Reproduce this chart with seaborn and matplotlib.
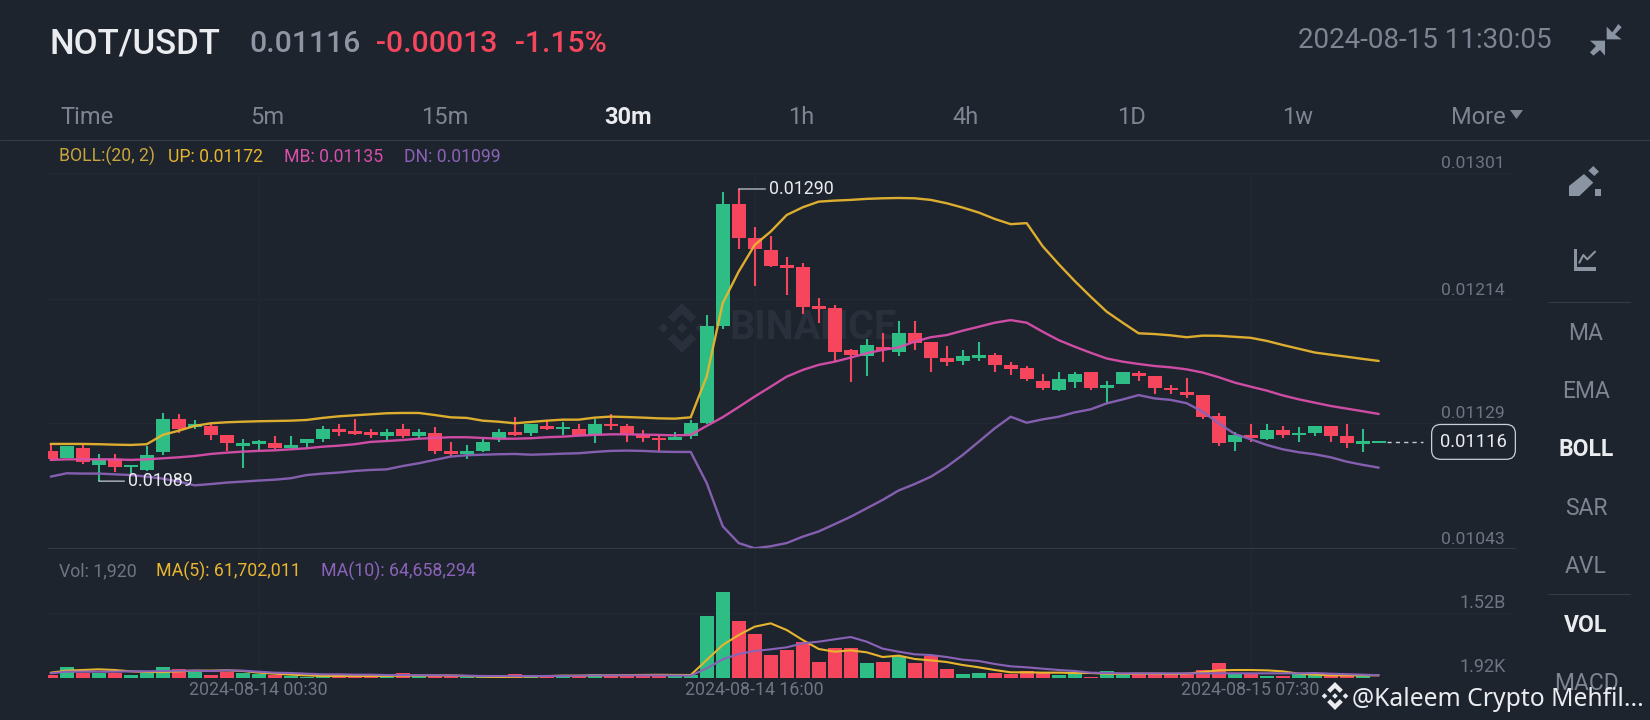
import numpy as np
import pandas as pd
import matplotlib
matplotlib.use("Agg")
import matplotlib.pyplot as plt
from matplotlib.patches import Polygon
from matplotlib.lines import Line2D
from matplotlib.transforms import Affine2D
import seaborn as sns

# NOT/USDT 30-minute candles, oldest first
opens = [0.01110,0.01105,0.01112,0.01100,0.01104,0.01099,0.01097,0.01109,0.01132,0.01126,0.01127,0.01121,
         0.01113,0.01115,0.01115,0.01112,0.01115,0.01118,0.01125,0.01123,0.01123,0.01120,0.01125,0.01120,
         0.01122,0.01110,0.01108,0.01110,0.01118,0.01123,0.01122,0.01127,0.01125,0.01125,0.01121,0.01128,
         0.01127,0.01121,0.01119,0.01118,0.01120,0.01129,0.01196,0.01280,0.01256,0.01248,0.01237,0.01236,
         0.01209,0.01208,0.01179,0.01175,0.01181,0.01178,0.01191,0.01185,0.01174,0.01172,0.01174,0.01176,
         0.01169,0.01167,0.01158,0.01152,0.01157,0.01164,0.01153,0.01156,0.01163,0.01161,0.01153,0.01150,
         0.01148,0.01134,0.01116,0.01121,0.01118,0.01124,0.01121,0.01122,0.01127,0.01120,0.01115,0.01116]
highs = [0.01115,0.01113,0.01114,0.01108,0.01108,0.01100,0.01113,0.01136,0.01135,0.01131,0.01129,0.01121,
         0.01118,0.01117,0.01120,0.01120,0.01118,0.01127,0.01128,0.01132,0.01125,0.01125,0.01128,0.01125,
         0.01126,0.01116,0.01114,0.01118,0.01125,0.01133,0.01128,0.01131,0.01130,0.01128,0.01132,0.01135,
         0.01128,0.01124,0.01121,0.01123,0.01131,0.01203,0.01288,0.01290,0.01264,0.01258,0.01243,0.01239,
         0.01215,0.01210,0.01180,0.01187,0.01191,0.01199,0.01199,0.01185,0.01182,0.01179,0.01185,0.01177,
         0.01171,0.01168,0.01163,0.01164,0.01164,0.01164,0.01158,0.01164,0.01165,0.01161,0.01155,0.01160,
         0.01148,0.01136,0.01123,0.01128,0.01128,0.01127,0.01126,0.01127,0.01127,0.01128,0.01125,0.01116]
lows = [0.01103,0.01105,0.01101,0.01089,0.01095,0.01093,0.01096,0.01107,0.01122,0.01125,0.01117,0.01110,
        0.01098,0.01110,0.01111,0.01112,0.01112,0.01116,0.01120,0.01121,0.01119,0.01117,0.01119,0.01118,
        0.01108,0.01106,0.01104,0.01109,0.01116,0.01120,0.01120,0.01124,0.01121,0.01120,0.01115,0.01124,
        0.01116,0.01116,0.01110,0.01117,0.01118,0.01128,0.01194,0.01249,0.01223,0.01236,0.01217,0.01204,
        0.01198,0.01171,0.01157,0.01161,0.01171,0.01175,0.01179,0.01164,0.01168,0.01169,0.01172,0.01164,
        0.01162,0.01158,0.01152,0.01151,0.01153,0.01152,0.01142,0.01156,0.01158,0.01149,0.01149,0.01146,
        0.01132,0.01113,0.01110,0.01116,0.01117,0.01119,0.01116,0.01120,0.01116,0.01112,0.01109,0.01116]
closes = [0.01104,0.01113,0.01102,0.01104,0.01099,0.01100,0.01107,0.01132,0.01125,0.01128,0.01121,0.01115,
          0.01115,0.01116,0.01112,0.01114,0.01118,0.01125,0.01123,0.01122,0.01121,0.01123,0.01120,0.01123,
          0.01110,0.01108,0.01110,0.01116,0.01123,0.01121,0.01128,0.01125,0.01126,0.01121,0.01128,0.01127,
          0.01121,0.01119,0.01117,0.01119,0.01129,0.01196,0.01280,0.01256,0.01249,0.01237,0.01236,0.01209,
          0.01208,0.01178,0.01176,0.01183,0.01179,0.01191,0.01184,0.01174,0.01171,0.01175,0.01176,0.01169,
          0.01166,0.01159,0.01153,0.01159,0.01163,0.01153,0.01155,0.01164,0.01162,0.01153,0.01152,0.01149,
          0.01133,0.01115,0.01121,0.01119,0.01124,0.01121,0.01122,0.01127,0.01120,0.01115,0.01116,0.01116]

# Bollinger bands (20, 2)
boll_up = [0.011146,0.011146,0.011146,0.011144,0.011141,0.011139,0.011144,0.011208,0.011237,0.011270,0.011288,0.011295,
           0.011299,0.011302,0.011304,0.011306,0.011311,0.011325,0.011336,0.011343,0.011350,0.011357,0.011359,0.011359,
           0.011345,0.011329,0.011325,0.011306,0.011299,0.011288,0.011297,0.011306,0.011313,0.011313,0.011327,0.011334,
           0.011331,0.011327,0.011322,0.011320,0.011329,0.011610,0.012114,0.012332,0.012515,0.012607,0.012721,0.012774,
           0.012813,0.012820,0.012825,0.012832,0.012836,0.012838,0.012836,0.012825,0.012802,0.012772,0.012738,0.012694,
           0.012658,0.012665,0.012506,0.012383,0.012267,0.012159,0.012056,0.011980,0.011907,0.011902,0.011893,0.011880,
           0.011891,0.011890,0.011883,0.011876,0.011855,0.011827,0.011801,0.011775,0.011760,0.011746,0.011731,0.011717]
boll_mb = [0.011036,0.011040,0.011040,0.011040,0.011040,0.011036,0.011040,0.011047,0.011054,0.011063,0.011077,0.011086,
           0.011093,0.011098,0.011102,0.011109,0.011116,0.011127,0.011134,0.011144,0.011160,0.011166,0.011173,0.011182,
           0.011187,0.011192,0.011192,0.011187,0.011182,0.011182,0.011185,0.011192,0.011196,0.011203,0.011208,0.011212,
           0.011212,0.011210,0.011208,0.011205,0.011208,0.011270,0.011330,0.011400,0.011472,0.011540,0.011609,0.011655,
           0.011690,0.011712,0.011740,0.011770,0.011793,0.011810,0.011850,0.011880,0.011895,0.011925,0.011952,0.011980,
           0.011998,0.011980,0.011918,0.011860,0.011815,0.011773,0.011734,0.011712,0.011696,0.011682,0.011673,0.011659,
           0.011637,0.011605,0.011568,0.011540,0.011513,0.011480,0.011453,0.011430,0.011407,0.011389,0.011371,0.011352]
boll_dn = [0.010921,0.010944,0.010942,0.010942,0.010937,0.010932,0.010921,0.010907,0.010887,0.010861,0.010870,0.010880,
           0.010887,0.010894,0.010900,0.010910,0.010932,0.010942,0.010949,0.010960,0.010967,0.010971,0.010994,0.011013,
           0.011036,0.011059,0.011068,0.011072,0.011075,0.011077,0.011072,0.011075,0.011079,0.011082,0.011091,0.011098,
           0.011100,0.011098,0.011093,0.011091,0.011091,0.010877,0.010580,0.010464,0.010428,0.010442,0.010464,0.010508,
           0.010544,0.010594,0.010645,0.010703,0.010761,0.010826,0.010870,0.010920,0.010989,0.011070,0.011161,0.011253,
           0.011333,0.011292,0.011315,0.011333,0.011363,0.011384,0.011425,0.011452,0.011482,0.011459,0.011449,0.011426,
           0.011368,0.011288,0.011215,0.011178,0.011139,0.011109,0.011089,0.011075,0.011054,0.011024,0.011002,0.010983]

# Volume and its moving averages, in millions of NOT
volume_m = [70,257,117,117,117,63,117,264,218,133,77,147,117,101,70,47,30,54,54,54,54,30,108,54,63,63,16,16,16,101,
            47,63,54,63,94,70,70,78,87,63,70,1451,2012,1334,1023,531,648,842,367,695,695,344,367,515,358,515,218,94,
            117,110,94,171,110,70,110,23,171,87,94,94,101,101,187,351,117,94,54,47,94,70,70,63,47,0.00192]
vol_ma5_m = [125,172,187,203,187,156,140,140,156,172,172,179,164,125,101,78,62,47,47,47,47,47,55,55,60,60,47,31,20,30,
             35,45,55,55,62,65,68,72,75,72,70,421,772,1006,1201,1279,1123,889,679,616,647,601,491,523,445,413,374,304,
             250,187,133,133,125,125,117,117,101,94,101,101,94,101,140,179,187,187,179,156,101,78,62,62,62,61.7]
vol_ma10_m = [109,148,148,148,148,156,156,164,172,172,164,179,172,148,125,117,101,86,86,78,78,70,70,65,65,62,55,47,47,47,
              47,47,50,55,60,62,62,62,62,60,55,226,437,562,632,671,718,811,850,905,959,850,686,616,554,538,491,429,
              398,328,273,250,218,187,164,125,117,109,109,109,109,109,109,109,109,109,109,109,109,117,100,90,78,64.7]

price_ticks = [0.01301, 0.01214, 0.01129, 0.01043]
volume_ticks_m = [1520, 0.00192]
volume_tick_labels = ["1.52B", "1.92K"]
date_ticks = [13, 44, 75]
date_labels = ["2024-08-14 00:30", "2024-08-14 16:00", "2024-08-15 07:30"]
timeframes = ["Time", "5m", "15m", "30m", "1h", "4h", "1D", "1w", "More"]
indicators = ["MA", "EMA", "BOLL", "SAR", "AVL", "VOL", "MACD"]

BG = "#1e242e"
GREEN = "#2ebd85"
RED = "#f6465d"
YELLOW = "#e8b52f"
MAGENTA = "#d94fab"
PURPLE = "#8a63b8"
GRID = "#232933"
SEP = "#343b46"
GREY = "#848e9c"
DIM = "#6e7684"
WHITE = "#eaecef"
MARK = "#2a303b"

W, H = 1650, 720
sns.set_theme(style="dark", rc={"figure.facecolor": BG, "axes.facecolor": BG, "savefig.facecolor": BG})
plt.rcParams["font.family"] = ["Roboto", "DejaVu Sans"]

fig = plt.figure(figsize=(W / 100, H / 100), dpi=100)
# Header, menus and icons are laid out in pixels from the top-left corner
PX = Affine2D().scale(1, -1).translate(0, H)
RAISE = Affine2D().translate(0, 1.5)


def pane(left, top, right, bottom):
    return fig.add_axes([left / W, 1 - bottom / H, (right - left) / W, (bottom - top) / H])


def label(x, y, s, color=GREY, size=12, ha="left", weight="normal", **kw):
    return fig.text(x, y + 2.5, s, color=color, fontsize=size, ha=ha, va="center", weight=weight, transform=PX, **kw)


def icon(points, color=GREY):
    fig.add_artist(Polygon(points, closed=True, facecolor=color, edgecolor="none", transform=PX))


def logo(cx, cy, r, color, zorder=3, target=None):
    # Exchange mark: three small diamonds in a row between two chevrons
    shapes = [[(0, -.2), (.2, 0), (0, .2), (-.2, 0)]]
    for dx in (-.75, .75):
        shapes.append([(dx, -.2), (dx + .2, 0), (dx, .2), (dx - .2, 0)])
    for sign in (-1, 1):
        shapes.append([(0, sign), (.56, sign * .44), (.34, sign * .22), (0, sign * .56),
                       (-.34, sign * .22), (-.56, sign * .44)])
    for shape in shapes:
        pts = [(cx + a * r, cy + b * r) for a, b in shape]
        patch = Polygon(pts, closed=True, facecolor=color, edgecolor="none", transform=PX, zorder=zorder)
        if target is None:
            fig.add_artist(patch)
        else:
            target.add_patch(patch)


candles = pd.DataFrame({"open": opens, "high": highs, "low": lows, "close": closes})
candles["i"] = np.arange(len(candles))
candles["up"] = candles["close"] >= candles["open"]
candles["volume"] = volume_m
bar_colors = candles["up"].map({True: GREEN, False: RED})

x_limits = (-0.17, 91.52)

# Price pane
ax = pane(48, 173, 1515, 548)
ax.set_ylim(price_ticks[-1], price_ticks[0])
ax.set_xlim(*x_limits)
ax.vlines(candles["i"], candles["low"], candles["high"], colors=bar_colors, linewidth=1.5, zorder=2)
min_body = 1.8e-5
body_mid = (candles["open"] + candles["close"]) / 2
body_size = np.maximum((candles["close"] - candles["open"]).abs(), min_body)
ax.bar(candles["i"], body_size, bottom=body_mid - body_size / 2, width=0.875, color=bar_colors, zorder=2, linewidth=0)
for band, colour in [(boll_up, YELLOW), (boll_mb, MAGENTA), (boll_dn, PURPLE)]:
    sns.lineplot(x=candles["i"], y=band, ax=ax, color=colour, linewidth=1.7, alpha=0.95, zorder=3,
                 estimator=None, errorbar=None)
ax.set_xlim(*x_limits)
ax.set_ylim(price_ticks[-1], price_ticks[0])
ax.set_xlabel("")
ax.set_ylabel("")
ax.set_xticks(date_ticks)
ax.set_xticklabels([])
ax.yaxis.tick_right()
ax.set_yticks(price_ticks)
ax.set_yticklabels([f"{p:.5f}" for p in price_ticks], color=DIM, fontsize=12.6, va="bottom", ha="right")
ax.tick_params(axis="y", length=0, pad=-7.2)
ax.tick_params(axis="x", length=0)
for tick_text in ax.get_yticklabels():
    tick_text.set_transform(tick_text.get_transform() + RAISE)
ax.grid(True, color=GRID, linewidth=0.8)
ax.set_axisbelow(True)
sns.despine(ax=ax, left=True, top=True, right=True, bottom=False)
ax.spines["bottom"].set_color(SEP)
ax.spines["bottom"].set_linewidth(0.8)

# Faint exchange watermark behind the candles
ax.text(813, 328, "BINANCE", color=MARK, fontsize=28.5, weight="bold", ha="center", va="center",
        transform=PX, zorder=1)
logo(682, 328, 25, MARK, zorder=1, target=ax)

# Extremes of the visible range
hi = candles["high"].idxmax()
lo = candles["low"].idxmin()
for idx, val, dx in [(hi, highs[hi], 30), (lo, lows[lo], 29)]:
    ax.annotate(f"{val:.5f}", xy=(idx, val), xytext=(dx, 0), textcoords="offset pixels", color=WHITE, fontsize=12.8,
                va="center", ha="left", zorder=5,
                arrowprops=dict(arrowstyle="-", color="#c5cad1", lw=0.9, shrinkA=0, shrinkB=0, relpos=(0, 0.5)))

# Last traded price tag
last = closes[-1]
ax.plot([83.5, 85.8], [last, last], color="#c5cad1", linewidth=1, linestyle=(0, (3, 3)), zorder=2)
ax.annotate(f"{last:.5f}", xy=(1, last), xycoords=("axes fraction", "data"), xytext=(-41.5, 0),
            textcoords="offset pixels", color=WHITE, fontsize=13.2, ha="center", va="center", zorder=6,
            bbox=dict(boxstyle="round,pad=0.46,rounding_size=0.5", facecolor=BG, edgecolor="#c9ced6", linewidth=0.9))

# Volume pane
ax_v = pane(48, 549, 1515, 678)
sns.barplot(data=candles, x="i", y="volume", hue="up", palette={True: GREEN, False: RED}, dodge=False,
            native_scale=True, width=0.875, saturation=1, legend=False, ax=ax_v, zorder=2, linewidth=0, errorbar=None)
sns.lineplot(x=candles["i"], y=vol_ma5_m, ax=ax_v, color=YELLOW, linewidth=1.5, zorder=3, estimator=None, errorbar=None)
sns.lineplot(x=candles["i"], y=vol_ma10_m, ax=ax_v, color=PURPLE, linewidth=1.5, zorder=3, estimator=None, errorbar=None)
ax_v.set_xlim(*x_limits)
ax_v.set_ylim(0, 3019)
ax_v.set_xlabel("")
ax_v.set_ylabel("")
ax_v.set_xticks(date_ticks)
ax_v.set_xticklabels(date_labels, color=DIM, fontsize=12.8)
ax_v.yaxis.tick_right()
ax_v.set_yticks(volume_ticks_m)
ax_v.set_yticklabels(volume_tick_labels, color=DIM, fontsize=13, va="bottom", ha="right")
ax_v.tick_params(axis="y", length=0, pad=-6.5)
ax_v.tick_params(axis="x", length=0, pad=2)
for tick_text in ax_v.get_yticklabels():
    tick_text.set_transform(tick_text.get_transform() + RAISE)
ax_v.grid(True, color=GRID, linewidth=0.8)
ax_v.set_axisbelow(True)
sns.despine(ax=ax_v, left=True, top=True, right=True, bottom=True)

# Header row
label(50, 41, "NOT/USDT", WHITE, 25, weight="medium")
label(249, 41, "0.01116", "#8f96a3", 21.7, weight="medium")
label(376, 41, "-0.00013", RED, 21.7, weight="medium")
label(515, 41, "-1.15%", RED, 21.7, weight="medium")
label(1552, 38.5, "2024-08-15 11:30:05", "#7d8592", 20, ha="right")

# Compress icon, drawing tools and chart settings icons
to_px = lambda pts: [(1300 + x / 3, y / 3) for x, y in pts]
icon(to_px([(920, 80), (937, 97), (955, 72), (965, 82), (945, 103), (965, 118), (920, 118)]), "#8b94a3")
icon(to_px([(870, 122), (915, 122), (915, 167), (900, 150), (880, 167), (870, 157), (888, 138)]), "#8b94a3")
icon(to_px([(807, 588), (807, 558), (852, 522), (880, 548), (838, 588)]), "#8b94a3")
icon(to_px([(865, 512), (880, 498), (897, 515), (883, 528)]), "#8b94a3")
icon(to_px([(885, 568), (903, 568), (903, 588), (885, 588)]), "#8b94a3")
icon(to_px([(822, 748), (832, 748), (832, 802), (888, 802), (888, 813), (822, 813)]), "#8b94a3")
fig.add_artist(Line2D(*zip(*to_px([(838, 788), (850, 765), (862, 778), (885, 755)])), color="#8b94a3", lw=1.5,
                      transform=PX))

# Timeframe tabs
tab_x = [60, 267, 445, 628, 801, 966, 1131, 1298, 1451]
for name, x in zip(timeframes, tab_x):
    active = name == "30m"
    label(x, 115.5, name, WHITE if active else "#7d8592", 17, ha="left" if name in ("Time", "More") else "center",
          weight="bold" if active else "normal")
icon([(1510, 110), (1523, 110), (1516.5, 119)], "#7d8592")
fig.add_artist(Line2D([0, W], [140, 140], color=SEP, lw=0.8, transform=PX))

# Indicator legends
label(59, 154, "BOLL:(20, 2)", "#c9a53c", 12.7)
label(168, 154, "UP: 0.01172", YELLOW, 12.7)
label(284, 154, "MB: 0.01135", MAGENTA, 12.7)
label(404, 154, "DN: 0.01099", PURPLE, 12.7)
label(59, 569, "Vol: 1,920", DIM, 12.8)
label(156, 569, "MA(5): 61,702,011", YELLOW, 12.8)
label(321, 569, "MA(10): 64,658,294", PURPLE, 12.8)

# Indicator side menu; the last entry runs off the bottom and sits under the credit line
menu_y = [331, 389, 447, 506, 564, 623, 681]
for name, y in zip(indicators, menu_y):
    active = name in ("BOLL", "VOL")
    label(1586, y, name, WHITE if active else "#7d8592", 16.5, ha="center", weight="bold" if active else "normal",
          zorder=1)
for y in (302, 594):
    fig.add_artist(Line2D([1548, 1630], [y, y], color=SEP, lw=0.8, transform=PX))

# Author credit in the bottom corner
logo(1335, 696, 14, WHITE, zorder=5)
fig.text(1352, 699, "@Kaleem Crypto Mehfil...", color=WHITE, fontsize=17.8, ha="left", va="center",
         family=["Noto Sans", "DejaVu Sans"], transform=PX, zorder=5)

fig.savefig("out.png", dpi=100)
